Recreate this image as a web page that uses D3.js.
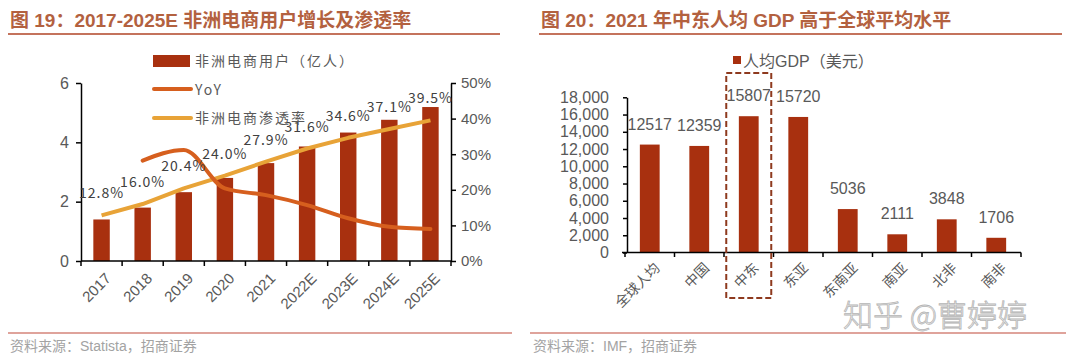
<!DOCTYPE html>
<html><head><meta charset="utf-8">
<script src="https://cdn.jsdelivr.net/npm/d3@7"></script>
<style>
html,body{margin:0;padding:0;background:#fff;}
svg{display:block;}
</style></head>
<body><svg id="c" width="1080" height="360"></svg>
<script>
// ---- Data: left chart ----
const years = ["2017","2018","2019","2020","2021","2022E","2023E","2024E","2025E"];
const users = [1.4, 1.8, 2.32, 2.8, 3.3, 3.86, 4.33, 4.76, 5.19];          // 亿人
const yoy = [null, 28.2, 31.2, 20.4, 18.5, 15.7, 12.0, 9.6, 9.0];          // %
const penetration = [12.8, 16.0, 20.4, 24.0, 27.9, 31.6, 34.6, 37.1, 39.5]; // %
const leftTicks = [0, 2, 4, 6];
const rightTicks = [0, 10, 20, 30, 40, 50];
// ---- Data: right chart ----
const regions = ["全球人均","中国","中东","东亚","东南亚","南亚","北非","南非"];
const gdp = [12517, 12359, 15807, 15720, 5036, 2111, 3848, 1706];
const gdpTicks = [0,2000,4000,6000,8000,10000,12000,14000,16000,18000];
const highlight = "中东";

const svg = d3.select("#c");
const latin = "'Liberation Sans', Arial, 'Noto Sans CJK SC', sans-serif";
const cjk = "'Noto Sans CJK SC', 'Liberation Sans', sans-serif";
const titleColor = "#b3613f";
const barColor = "#a8300f";
const yoyColor = "#d65f1e";
const penColor = "#e8a337";
const gray = "#595959";

// ---- Titles, rules, footers ----
function header(x, text, x2) {
  svg.append("text").attr("x", x).attr("y", 27).text(text)
    .attr("font-family", latin).attr("font-weight", "bold").attr("font-size", 19)
    .attr("fill", titleColor);
  svg.append("line").attr("x1", x - 2).attr("x2", x2).attr("y1", 34).attr("y2", 34)
    .attr("stroke", "#c4735c").attr("stroke-width", 2);
}
header(10, "图 19：2017-2025E 非洲电商用户增长及渗透率", 500);
header(541, "图 20：2021 年中东人均 GDP 高于全球平均水平", 1062);

function footer(x1, x2, tx, text) {
  svg.append("line").attr("x1", x1).attr("x2", x2).attr("y1", 333).attr("y2", 333)
    .attr("stroke", "#d4857a").attr("stroke-width", 1.5);
  svg.append("text").attr("x", tx).attr("y", 351).text(text)
    .attr("font-family", latin).attr("font-size", 14).attr("fill", "#a3a3a3");
}
footer(8, 512, 10, "资料来源：Statista，招商证券");
footer(530, 1066, 533, "资料来源：IMF，招商证券");

// ---- Left chart ----
const xL = d3.scaleBand().domain(years).range([81, 451]).paddingInner(0.6).paddingOuter(0.3);
const yL = d3.scaleLinear().domain([0, 6]).range([261, 83]);
const yR = d3.scaleLinear().domain([0, 50]).range([261, 83]);
const cx = d => xL(d) + xL.bandwidth() / 2;

const gL = svg.append("g");
gL.selectAll("rect.bar").data(years).enter().append("rect")
  .attr("x", d => xL(d)).attr("width", xL.bandwidth())
  .attr("y", (d, i) => yL(users[i])).attr("height", (d, i) => yL(0) - yL(users[i]))
  .attr("fill", barColor);

// axes
const axL = gL.append("g").attr("transform", "translate(81,0)")
  .call(d3.axisLeft(yL).tickValues(leftTicks).tickSize(5).tickSizeOuter(0).tickFormat(d3.format("d")));
const axR = gL.append("g").attr("transform", "translate(451,0)")
  .call(d3.axisRight(yR).tickValues(rightTicks).tickSize(5).tickSizeOuter(0).tickFormat(d => d + "%"));
[axL, axR].forEach(a => {
  a.select(".domain").attr("stroke", "#000").attr("stroke-width", 1.5);
  a.selectAll(".tick line").attr("stroke", "#000").attr("stroke-width", 1.5);
  a.selectAll("text").attr("font-family", latin).attr("font-size", 16).attr("fill", gray);
});
axL.selectAll("text").attr("x", -12);
axR.selectAll("text").attr("x", 10).attr("font-size", 15);

// x axis with ticks at band boundaries
const bounds = years.map(d => xL(d) - xL.step() * xL.paddingInner() / 2).concat([451]);
bounds[0] = 81;
gL.append("line").attr("x1", 81).attr("x2", 451).attr("y1", 261).attr("y2", 261)
  .attr("stroke", "#000").attr("stroke-width", 1.5);
gL.selectAll("line.xt").data(bounds).enter().append("line")
  .attr("x1", d => d).attr("x2", d => d).attr("y1", 261).attr("y2", 266)
  .attr("stroke", "#000").attr("stroke-width", 1.5);
gL.selectAll("text.xl").data(years).enter().append("text")
  .attr("transform", d => `translate(${cx(d) + 3},${272}) rotate(-45)`)
  .attr("text-anchor", "end").attr("dy", "0.7em")
  .attr("font-family", latin).attr("font-size", 15).attr("fill", gray).text(d => d);

// lines
const penLine = d3.line().x((d, i) => cx(years[i])).y(d => yR(d));
gL.append("path").attr("d", penLine(penetration)).attr("fill", "none")
  .attr("stroke", penColor).attr("stroke-width", 4).attr("stroke-linejoin", "round");
const yoyLine = d3.line().defined(d => d != null).x((d, i) => cx(years[i])).y(d => yR(d))
  .curve(d3.curveMonotoneX);
gL.append("path").attr("d", yoyLine(yoy)).attr("fill", "none")
  .attr("stroke", yoyColor).attr("stroke-width", 4).attr("stroke-linecap", "round");

// penetration labels
gL.selectAll("text.pl").data(penetration).enter().append("text")
  .attr("x", (d, i) => cx(years[i])).attr("y", d => yR(d) - 17)
  .attr("text-anchor", "middle").attr("font-family", cjk).attr("font-size", 14)
  .attr("letter-spacing", 1).attr("fill", "#404040").text(d => d.toFixed(1) + "%");

// legend
const lg = gL.append("g");
lg.append("rect").attr("x", 153).attr("y", 55).attr("width", 37).attr("height", 12).attr("fill", barColor);
lg.append("line").attr("x1", 154).attr("x2", 191).attr("y1", 89).attr("y2", 89)
  .attr("stroke", yoyColor).attr("stroke-width", 4).attr("stroke-linecap", "round");
lg.append("line").attr("x1", 154).attr("x2", 191).attr("y1", 118).attr("y2", 118)
  .attr("stroke", penColor).attr("stroke-width", 4).attr("stroke-linecap", "round");
[["非洲电商用户（亿人）", 61], ["YoY", 90], ["非洲电商渗透率", 118]].forEach(([t, y]) => {
  lg.append("text").attr("x", 195).attr("y", y).attr("dy", "0.35em").text(t)
    .attr("font-family", cjk).attr("font-size", 14).attr("letter-spacing", 2).attr("fill", gray);
});

// ---- Right chart ----
const xG = d3.scaleBand().domain(regions).range([625, 1021]).paddingInner(0.6).paddingOuter(0.3);
const yG = d3.scaleLinear().domain([0, 18000]).range([252.5, 97.3]);
const gcx = d => xG(d) + xG.bandwidth() / 2;
const gR = svg.append("g");

gR.selectAll("rect").data(regions).enter().append("rect")
  .attr("x", d => xG(d)).attr("width", xG.bandwidth())
  .attr("y", (d, i) => yG(gdp[i])).attr("height", (d, i) => yG(0) - yG(gdp[i]))
  .attr("fill", barColor);

const axG = gR.append("g").attr("transform", "translate(627,0)")
  .call(d3.axisLeft(yG).tickValues(gdpTicks).tickSize(4).tickSizeOuter(0).tickFormat(d3.format(",")));
axG.select(".domain").attr("stroke", "#000").attr("stroke-width", 1.5);
axG.selectAll(".tick line").attr("stroke", "#000").attr("stroke-width", 1.5);
axG.selectAll("text").attr("font-family", latin).attr("font-size", 16).attr("fill", gray).attr("x", -18);

const gb = regions.map(d => xG(d) - xG.step() * xG.paddingInner() / 2).concat([1021]);
gb[0] = 625;
gR.append("line").attr("x1", 622).attr("x2", 1021).attr("y1", 252.5).attr("y2", 252.5)
  .attr("stroke", "#000").attr("stroke-width", 1.5);
gR.selectAll("line.xt").data(gb).enter().append("line")
  .attr("x1", d => d).attr("x2", d => d).attr("y1", 252.5).attr("y2", 257)
  .attr("stroke", "#000").attr("stroke-width", 1.5);
gR.selectAll("text.xl").data(regions).enter().append("text")
  .attr("transform", d => `translate(${gcx(d) + 4},${262}) rotate(-45)`)
  .attr("text-anchor", "end").attr("dy", "0.7em")
  .attr("font-family", cjk).attr("font-size", 14).attr("fill", gray).text(d => d);

gR.selectAll("text.vl").data(gdp).enter().append("text")
  .attr("x", (d, i) => gcx(regions[i])).attr("y", d => yG(d) - 15)
  .attr("text-anchor", "middle").attr("font-family", latin).attr("font-size", 16)
  .attr("fill", gray).text(d => d);

// highlight box
const hx = gcx(highlight);
gR.append("rect").attr("x", hx - 22.5).attr("y", 73).attr("width", 45).attr("height", 225)
  .attr("fill", "none").attr("stroke", "#8e3a1e").attr("stroke-width", 2)
  .attr("stroke-dasharray", "6,3");

// legend
gR.append("rect").attr("x", 733).attr("y", 56).attr("width", 8).attr("height", 8).attr("fill", barColor);
gR.append("text").attr("x", 743).attr("y", 61).attr("dy", "0.35em").text("人均GDP（美元）")
  .attr("font-family", latin).attr("font-size", 16).attr("fill", gray);

// watermark
svg.append("text").attr("x", 843).attr("y", 326).text("知乎 @曹婷婷")
  .attr("font-family", cjk).attr("font-size", 30).attr("font-weight", 300)
  .attr("fill", "#f2f2f2").attr("stroke", "#b5b5b5").attr("stroke-width", 0.8);
</script></body></html>
